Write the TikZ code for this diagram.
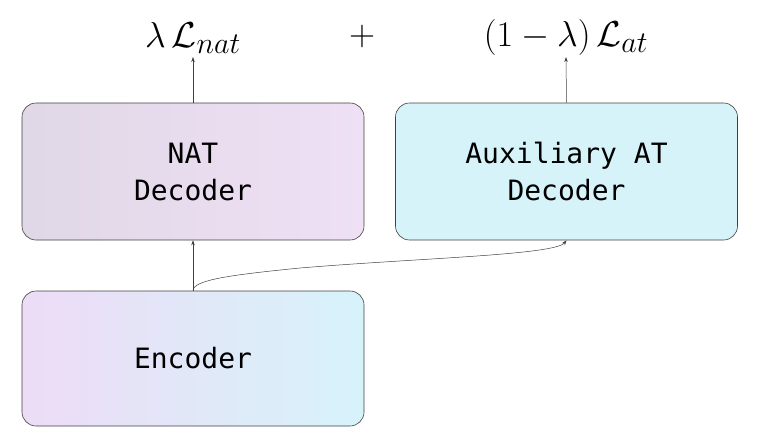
\documentclass[tikz,border=0pt]{standalone}
\usepackage{fontspec}
\usepackage{graphicx}
\setmonofont{DejaVu Sans Mono}
\usetikzlibrary{arrows.meta}
\definecolor{natL}{HTML}{E0D8E6}
\definecolor{natR}{HTML}{EFE0F5}
\definecolor{encL}{HTML}{EDDCF6}
\definecolor{encR}{HTML}{D6F3FA}
\definecolor{aux}{HTML}{D6F3FA}
\newcommand{\biglab}[1]{\scalebox{1.45}{#1}}
\begin{document}
\begin{tikzpicture}[x=1pt,y=-1pt,
  box/.style={draw=black!75,line width=0.6pt,rounded corners=14pt,minimum width=342pt,minimum height=137pt,align=center,font=\ttfamily\fontsize{28}{37}\selectfont,inner sep=0pt},
  arr/.style={draw=black!75,line width=0.5pt,-{Stealth[length=5pt,width=3.5pt]}},
  lab/.style={font=\fontsize{24.88}{30}\selectfont,inner sep=0pt}]
\useasboundingbox (0,0) rectangle (765,447);
\node[box,left color=natL,right color=natR] (nat) at (193,171.5) {NAT\\Decoder};
\node[box,fill=aux] (aux) at (566.5,171.5) {Auxiliary AT\\Decoder};
\node[box,left color=encL,right color=encR,minimum height=135pt] (enc) at (193,358.5) {Encoder};
\node[lab] (l1) at (193,38) {\biglab{$\lambda\,\mathcal{L}_{nat}$}};
\node[lab] (plus) at (362,36) {\biglab{$+$}};
\node[lab] (l2) at (566,37) {\biglab{$(1-\lambda)\,\mathcal{L}_{at}$}};
\coordinate (t1) at (193,57);
\coordinate (t2) at (566,57);
\draw[arr] (nat.north) -- (t1);
\draw[arr] (aux.north) -- (t2);
\draw[arr] (enc.north) -- (nat.south);
\draw[arr] (enc.north) .. controls (193,280) and (230,275) .. (300,268) .. controls (420,258) and (555,255) .. (aux.south);
\end{tikzpicture}
\end{document}
